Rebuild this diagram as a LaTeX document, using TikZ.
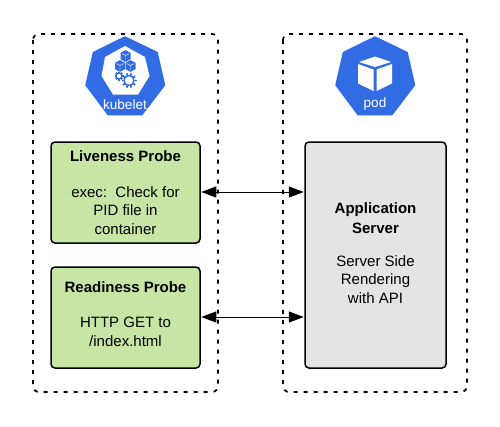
\documentclass[tikz,border=0pt]{standalone}
\usepackage{fontspec}
\setmainfont{Liberation Sans}
\usetikzlibrary{arrows.meta}
\definecolor{kblue}{HTML}{326CE5}
\definecolor{pgreen}{HTML}{C7E6A5}
\definecolor{sgrey}{HTML}{E4E4E4}
\tikzset{
  x=1pt,y=-1pt,
  groupbox/.style={draw=black,line width=1.7pt,dash pattern=on 4pt off 6pt,rounded corners=6pt},
  probe/.style={draw=black,line width=1.5pt,fill=pgreen,rounded corners=4pt,inner sep=0pt,minimum width=149pt,minimum height=101pt},
  server/.style={draw=black,line width=1.5pt,fill=sgrey,rounded corners=4pt,inner sep=0pt,minimum width=141pt,minimum height=226pt},
  body/.style={align=center,font=\fontsize{15}{18.5}\selectfont,inner sep=0pt,text=black},
  link/.style={draw=black,line width=1pt,{Triangle[length=15pt,width=11pt]}-{Triangle[length=15pt,width=11pt]}},
  hept/.style={fill=kblue,draw=kblue,line width=1.5pt,line join=round},
  badge/.style={text=white,font=\fontsize{13.6}{16}\selectfont,inner sep=0pt},
}
\newcommand{\smallcube}[2]{%
  \fill[kblue] (#1-5,#2-3.2) -- (#1,#2-5.8) -- (#1+5,#2-3.2) -- (#1+5,#2+3.2) -- (#1,#2+5.8) -- (#1-5,#2+3.2) -- cycle;
  \draw[white,line width=.45pt] (#1-3.6,#2-2.4) -- (#1,#2-.6) -- (#1+3.6,#2-2.4) (#1,#2-.6) -- (#1,#2+4);
}
\newcommand{\gearshape}[4]{% x y radius teeth
  \foreach \a in {1,...,#4}{
    \draw[kblue,line width=1.8pt] (#1,#2) ++({\a*360/#4}:#3) -- ++({\a*360/#4}:{#3*0.5});
  }
  \draw[kblue,line width=1.4pt,fill=white] (#1,#2) circle (#3);
}
\begin{document}
\begin{tikzpicture}
\useasboundingbox (0,0) rectangle (500,426);
\fill[white] (0,0) rectangle (500,426);
% group boxes
\draw[groupbox] (33,34) rectangle (218,392);
\draw[groupbox] (283,34) rectangle (467,392);
% kubelet badge
\draw[hept] (125,37) -- (157,52.5) -- (164.5,85) -- (142,114.5) -- (108,114.5) -- (86,85) -- (93.5,52.5) -- cycle;
\fill[white] (125,46) -- (145,57) -- (149.5,76) -- (138,94.5) -- (113,94.5) -- (101.5,76) -- (105,57) -- cycle;
\smallcube{125.5}{56}
\smallcube{120}{66}
\smallcube{130.5}{66}
\gearshape{119}{76}{3}{8}
\gearshape{129}{80.5}{5}{10}
\node[badge] (kubelet) at (125,104.5) {kubelet};
% pod badge
\draw[hept] (375,37) -- (407,52.5) -- (414.5,85) -- (392,114.5) -- (358,114.5) -- (336,85) -- (343.5,52.5) -- cycle;
\fill[white] (375,56.5) -- (391,62) -- (375,67) -- (359,62) -- cycle;
\fill[white] (358,64) -- (373.5,69.5) -- (373.5,91) -- (358,83.5) -- cycle;
\fill[white] (392,64) -- (376.5,69.5) -- (376.5,91) -- (392,83.5) -- cycle;
\node[badge] (pod) at (375,104) {pod};
% boxes
\node[probe] (live) at (125.5,192.5) {};
\node[probe] (ready) at (125.5,317.5) {};
\node[server] (app) at (375.5,255) {};
\node[body,font=\fontsize{15}{18.5}\selectfont\bfseries] (livet) at (125.5,156.5) {Liveness Probe};
\node[body] (liveb) at (125.5,210.5) {exec:\ \ Check for\\PID file in\\container};
\node[body,font=\fontsize{15}{18.5}\selectfont\bfseries] (readt) at (125.5,287) {Readiness Probe};
\node[body] (readb) at (125.5,332) {HTTP GET to\\/index.html};
\node[body,font=\fontsize{15}{20}\selectfont\bfseries] (appt) at (375.5,218) {Application\\Server};
\node[body] (appb) at (375.5,279.5) {Server Side\\Rendering\\with API};
% connectors
\coordinate (l1) at (live.east |- 0,192);
\coordinate (r1) at (app.west |- 0,192);
\coordinate (l2) at (ready.east |- 0,317);
\coordinate (r2) at (app.west |- 0,317);
\draw[link,shorten <=0.5pt,shorten >=0.5pt] (l1) -- (r1);
\draw[link,shorten <=0.5pt,shorten >=0.5pt] (l2) -- (r2);
\end{tikzpicture}
\end{document}
